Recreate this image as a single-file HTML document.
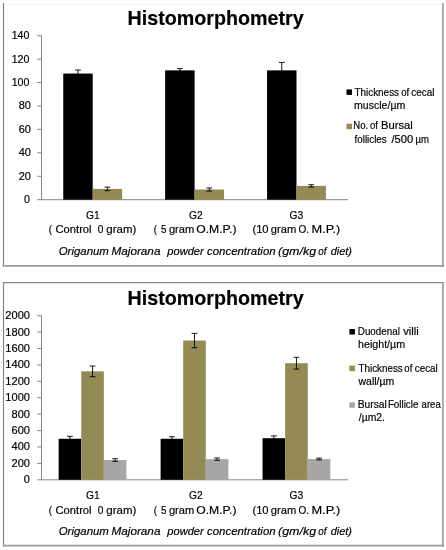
<!DOCTYPE html>
<html><head><meta charset="utf-8"><title>Histomorphometry</title>
<style>
html,body{margin:0;padding:0;background:#fff;}
svg{display:block;font-family:"Liberation Sans",sans-serif;}
text{stroke:#000;stroke-width:0.18px;}
</style></head><body>
<svg width="446" height="550" viewBox="0 0 446 550">
<rect width="446" height="550" fill="#fff"/>
<line x1="3.5" y1="3" x2="3.5" y2="266.7" stroke="#858585" stroke-width="1.2"/>
<line x1="442.9" y1="3" x2="442.9" y2="266.7" stroke="#ababab" stroke-width="2"/>
<line x1="2.9" y1="265.8" x2="443.9" y2="265.8" stroke="#9a9a9a" stroke-width="1.7"/>
<line x1="4" y1="4.5" x2="442" y2="4.5" stroke="#f4f4f4" stroke-width="1"/>
<text y="25.2" font-size="20.8" font-weight="bold"><tspan x="127.62" textLength="176.03" lengthAdjust="spacingAndGlyphs">Histomorphometry</tspan></text>
<line x1="41.50" y1="35.70" x2="41.50" y2="199.70" stroke="#868686" stroke-width="1"/>
<line x1="37.20" y1="199.70" x2="348.10" y2="199.70" stroke="#868686" stroke-width="1"/>
<text x="29.95" y="203.1" font-size="11.2" text-anchor="end" textLength="6.0" lengthAdjust="spacingAndGlyphs">0</text>
<line x1="37.20" y1="176.27" x2="41.50" y2="176.27" stroke="#868686" stroke-width="1"/>
<text x="30.85" y="179.67" font-size="11.2" text-anchor="end" textLength="12.2" lengthAdjust="spacingAndGlyphs">20</text>
<line x1="37.20" y1="152.84" x2="41.50" y2="152.84" stroke="#868686" stroke-width="1"/>
<text x="30.85" y="156.24" font-size="11.2" text-anchor="end" textLength="12.2" lengthAdjust="spacingAndGlyphs">40</text>
<line x1="37.20" y1="129.41" x2="41.50" y2="129.41" stroke="#868686" stroke-width="1"/>
<text x="30.85" y="132.81" font-size="11.2" text-anchor="end" textLength="12.2" lengthAdjust="spacingAndGlyphs">60</text>
<line x1="37.20" y1="105.99" x2="41.50" y2="105.99" stroke="#868686" stroke-width="1"/>
<text x="30.85" y="109.39" font-size="11.2" text-anchor="end" textLength="12.2" lengthAdjust="spacingAndGlyphs">80</text>
<line x1="37.20" y1="82.56" x2="41.50" y2="82.56" stroke="#868686" stroke-width="1"/>
<text x="29.4" y="85.96" font-size="11.2" text-anchor="end" textLength="17.7" lengthAdjust="spacingAndGlyphs">100</text>
<line x1="37.20" y1="59.13" x2="41.50" y2="59.13" stroke="#868686" stroke-width="1"/>
<text x="29.4" y="62.53" font-size="11.2" text-anchor="end" textLength="17.7" lengthAdjust="spacingAndGlyphs">120</text>
<line x1="37.20" y1="35.70" x2="41.50" y2="35.70" stroke="#868686" stroke-width="1"/>
<text x="29.4" y="39.1" font-size="11.2" text-anchor="end" textLength="17.7" lengthAdjust="spacingAndGlyphs">140</text>
<rect x="63.25" y="73.54" width="29.45" height="126.16" fill="#000000"/>
<line x1="77.97" y1="70.02" x2="77.97" y2="77.05" stroke="#000" stroke-width="0.9"/>
<line x1="75.07" y1="70.02" x2="80.88" y2="70.02" stroke="#000" stroke-width="0.9"/>
<line x1="75.07" y1="77.05" x2="80.88" y2="77.05" stroke="#000" stroke-width="0.9"/>
<rect x="92.70" y="188.92" width="29.45" height="10.78" fill="#948A54"/>
<line x1="107.42" y1="187.17" x2="107.42" y2="190.68" stroke="#000" stroke-width="0.9"/>
<line x1="104.52" y1="187.17" x2="110.33" y2="187.17" stroke="#000" stroke-width="0.9"/>
<line x1="104.52" y1="190.68" x2="110.33" y2="190.68" stroke="#000" stroke-width="0.9"/>
<rect x="165.15" y="70.37" width="29.45" height="129.33" fill="#000000"/>
<line x1="179.88" y1="68.62" x2="179.88" y2="72.13" stroke="#000" stroke-width="0.9"/>
<line x1="176.97" y1="68.62" x2="182.78" y2="68.62" stroke="#000" stroke-width="0.9"/>
<line x1="176.97" y1="72.13" x2="182.78" y2="72.13" stroke="#000" stroke-width="0.9"/>
<rect x="194.60" y="189.51" width="29.45" height="10.19" fill="#948A54"/>
<line x1="209.32" y1="187.99" x2="209.32" y2="191.03" stroke="#000" stroke-width="0.9"/>
<line x1="206.42" y1="187.99" x2="212.22" y2="187.99" stroke="#000" stroke-width="0.9"/>
<line x1="206.42" y1="191.03" x2="212.22" y2="191.03" stroke="#000" stroke-width="0.9"/>
<rect x="267.05" y="70.37" width="29.45" height="129.33" fill="#000000"/>
<line x1="281.78" y1="62.41" x2="281.78" y2="78.34" stroke="#000" stroke-width="0.9"/>
<line x1="278.88" y1="62.41" x2="284.68" y2="62.41" stroke="#000" stroke-width="0.9"/>
<line x1="278.88" y1="78.34" x2="284.68" y2="78.34" stroke="#000" stroke-width="0.9"/>
<rect x="296.50" y="185.88" width="29.45" height="13.82" fill="#948A54"/>
<line x1="311.23" y1="184.71" x2="311.23" y2="187.05" stroke="#000" stroke-width="0.9"/>
<line x1="308.33" y1="184.71" x2="314.12" y2="184.71" stroke="#000" stroke-width="0.9"/>
<line x1="308.33" y1="187.05" x2="314.12" y2="187.05" stroke="#000" stroke-width="0.9"/>
<text y="218.5" font-size="11.2"><tspan x="85.94" textLength="13.76" lengthAdjust="spacingAndGlyphs">G1</tspan></text>
<text y="233.4" font-size="11.2"><tspan x="48.68" textLength="3.29" lengthAdjust="spacingAndGlyphs">(</tspan> <tspan x="55.50" textLength="36.08" lengthAdjust="spacingAndGlyphs">Control</tspan> <tspan x="97.77" textLength="5.64" lengthAdjust="spacingAndGlyphs">0</tspan> <tspan x="106.34" textLength="29.94" lengthAdjust="spacingAndGlyphs">gram)</tspan></text>
<text y="218.5" font-size="11.2"><tspan x="188.94" textLength="13.66" lengthAdjust="spacingAndGlyphs">G2</tspan></text>
<text y="233.4" font-size="11.2"><tspan x="153.68" textLength="3.29" lengthAdjust="spacingAndGlyphs">(</tspan> <tspan x="161.05" textLength="5.49" lengthAdjust="spacingAndGlyphs">5</tspan> <tspan x="168.95" textLength="25.35" lengthAdjust="spacingAndGlyphs">gram</tspan> <tspan x="196.26" textLength="40.29" lengthAdjust="spacingAndGlyphs">O.M.P.)</tspan></text>
<text y="218.5" font-size="11.2"><tspan x="289.44" textLength="13.66" lengthAdjust="spacingAndGlyphs">G3</tspan></text>
<text y="233.4" font-size="11.2"><tspan x="252.40" textLength="16.22" lengthAdjust="spacingAndGlyphs">(10</tspan> <tspan x="270.85" textLength="25.45" lengthAdjust="spacingAndGlyphs">gram</tspan> <tspan x="298.55" textLength="10.57" lengthAdjust="spacingAndGlyphs">O.</tspan> <tspan x="311.51" textLength="28.82" lengthAdjust="spacingAndGlyphs">M.P.)</tspan></text>
<text y="255.0" font-size="11.2" font-style="italic"><tspan x="58.69" textLength="50.19" lengthAdjust="spacingAndGlyphs">Origanum</tspan> <tspan x="111.44" textLength="49.01" lengthAdjust="spacingAndGlyphs">Majorana</tspan> <tspan x="167.30" textLength="36.46" lengthAdjust="spacingAndGlyphs">powder</tspan> <tspan x="207.04" textLength="68.59" lengthAdjust="spacingAndGlyphs">concentration</tspan> <tspan x="278.04" textLength="38.10" lengthAdjust="spacingAndGlyphs">(gm/kg</tspan> <tspan x="318.37" textLength="8.22" lengthAdjust="spacingAndGlyphs">of</tspan> <tspan x="330.66" textLength="21.25" lengthAdjust="spacingAndGlyphs">diet)</tspan></text>
<rect x="346.50" y="89.40" width="5.50" height="5.50" fill="#000000"/>
<text y="95.7" font-size="10.4"><tspan x="354.40" textLength="44.67" lengthAdjust="spacingAndGlyphs">Thickness</tspan> <tspan x="401.16" textLength="7.98" lengthAdjust="spacingAndGlyphs">of</tspan> <tspan x="411.26" textLength="23.23" lengthAdjust="spacingAndGlyphs">cecal</tspan></text>
<text y="108.9" font-size="10.4"><tspan x="354.09" textLength="51.17" lengthAdjust="spacingAndGlyphs">muscle/µm</tspan></text>
<rect x="346.50" y="123.70" width="5.50" height="5.50" fill="#948A54"/>
<text y="129.3" font-size="10.4"><tspan x="353.32" textLength="14.88" lengthAdjust="spacingAndGlyphs">No.</tspan> <tspan x="370.01" textLength="7.98" lengthAdjust="spacingAndGlyphs">of</tspan> <tspan x="380.97" textLength="31.81" lengthAdjust="spacingAndGlyphs">Bursal</tspan></text>
<text y="142.5" font-size="10.4"><tspan x="354.60" textLength="32.11" lengthAdjust="spacingAndGlyphs">follicles</tspan> <tspan x="391.44" textLength="21.85" lengthAdjust="spacingAndGlyphs">/500</tspan> <tspan x="415.38" textLength="13.48" lengthAdjust="spacingAndGlyphs">µm</tspan></text>
<line x1="3.5" y1="282" x2="3.5" y2="546.6" stroke="#858585" stroke-width="1.2"/>
<line x1="442.9" y1="282" x2="442.9" y2="546.6" stroke="#ababab" stroke-width="2"/>
<line x1="2.9" y1="545.7" x2="443.9" y2="545.7" stroke="#9a9a9a" stroke-width="1.7"/>
<line x1="2.9" y1="282.6" x2="443.9" y2="282.6" stroke="#8a8a8a" stroke-width="1.4"/>
<text y="305.2" font-size="20.8" font-weight="bold"><tspan x="127.62" textLength="176.03" lengthAdjust="spacingAndGlyphs">Histomorphometry</tspan></text>
<line x1="41.50" y1="315.70" x2="41.50" y2="479.80" stroke="#868686" stroke-width="1"/>
<line x1="37.20" y1="479.80" x2="348.10" y2="479.80" stroke="#868686" stroke-width="1"/>
<text x="29.95" y="483.2" font-size="11.2" text-anchor="end" textLength="6.15" lengthAdjust="spacingAndGlyphs">0</text>
<line x1="37.20" y1="463.39" x2="41.50" y2="463.39" stroke="#868686" stroke-width="1"/>
<text x="29.95" y="466.79" font-size="11.2" text-anchor="end" textLength="18.45" lengthAdjust="spacingAndGlyphs">200</text>
<line x1="37.20" y1="446.98" x2="41.50" y2="446.98" stroke="#868686" stroke-width="1"/>
<text x="29.95" y="450.38" font-size="11.2" text-anchor="end" textLength="18.45" lengthAdjust="spacingAndGlyphs">400</text>
<line x1="37.20" y1="430.57" x2="41.50" y2="430.57" stroke="#868686" stroke-width="1"/>
<text x="29.95" y="433.97" font-size="11.2" text-anchor="end" textLength="18.45" lengthAdjust="spacingAndGlyphs">600</text>
<line x1="37.20" y1="414.16" x2="41.50" y2="414.16" stroke="#868686" stroke-width="1"/>
<text x="29.95" y="417.56" font-size="11.2" text-anchor="end" textLength="18.45" lengthAdjust="spacingAndGlyphs">800</text>
<line x1="37.20" y1="397.75" x2="41.50" y2="397.75" stroke="#868686" stroke-width="1"/>
<text x="29.95" y="401.15" font-size="11.2" text-anchor="end" textLength="24.6" lengthAdjust="spacingAndGlyphs">1000</text>
<line x1="37.20" y1="381.34" x2="41.50" y2="381.34" stroke="#868686" stroke-width="1"/>
<text x="29.95" y="384.74" font-size="11.2" text-anchor="end" textLength="24.6" lengthAdjust="spacingAndGlyphs">1200</text>
<line x1="37.20" y1="364.93" x2="41.50" y2="364.93" stroke="#868686" stroke-width="1"/>
<text x="29.95" y="368.33" font-size="11.2" text-anchor="end" textLength="24.6" lengthAdjust="spacingAndGlyphs">1400</text>
<line x1="37.20" y1="348.52" x2="41.50" y2="348.52" stroke="#868686" stroke-width="1"/>
<text x="29.95" y="351.92" font-size="11.2" text-anchor="end" textLength="24.6" lengthAdjust="spacingAndGlyphs">1600</text>
<line x1="37.20" y1="332.11" x2="41.50" y2="332.11" stroke="#868686" stroke-width="1"/>
<text x="29.95" y="335.51" font-size="11.2" text-anchor="end" textLength="24.6" lengthAdjust="spacingAndGlyphs">1800</text>
<line x1="37.20" y1="315.70" x2="41.50" y2="315.70" stroke="#868686" stroke-width="1"/>
<text x="29.95" y="319.1" font-size="11.2" text-anchor="end" textLength="24.6" lengthAdjust="spacingAndGlyphs">2000</text>
<rect x="58.65" y="438.77" width="22.60" height="41.03" fill="#000000"/>
<line x1="69.95" y1="436.31" x2="69.95" y2="441.24" stroke="#000" stroke-width="0.9"/>
<line x1="67.05" y1="436.31" x2="72.85" y2="436.31" stroke="#000" stroke-width="0.9"/>
<line x1="67.05" y1="441.24" x2="72.85" y2="441.24" stroke="#000" stroke-width="0.9"/>
<rect x="81.25" y="371.33" width="22.60" height="108.47" fill="#948A54"/>
<line x1="92.55" y1="366.00" x2="92.55" y2="376.66" stroke="#000" stroke-width="0.9"/>
<line x1="89.65" y1="366.00" x2="95.45" y2="366.00" stroke="#000" stroke-width="0.9"/>
<line x1="89.65" y1="376.66" x2="95.45" y2="376.66" stroke="#000" stroke-width="0.9"/>
<rect x="103.85" y="460.03" width="22.60" height="19.77" fill="#A6A6A6"/>
<line x1="115.15" y1="458.71" x2="115.15" y2="461.34" stroke="#000" stroke-width="0.9"/>
<line x1="112.25" y1="458.71" x2="118.05" y2="458.71" stroke="#000" stroke-width="0.9"/>
<line x1="112.25" y1="461.34" x2="118.05" y2="461.34" stroke="#000" stroke-width="0.9"/>
<rect x="160.60" y="438.77" width="22.60" height="41.03" fill="#000000"/>
<line x1="171.90" y1="436.72" x2="171.90" y2="440.83" stroke="#000" stroke-width="0.9"/>
<line x1="169.00" y1="436.72" x2="174.80" y2="436.72" stroke="#000" stroke-width="0.9"/>
<line x1="169.00" y1="440.83" x2="174.80" y2="440.83" stroke="#000" stroke-width="0.9"/>
<rect x="183.20" y="340.56" width="22.60" height="139.24" fill="#948A54"/>
<line x1="194.50" y1="333.34" x2="194.50" y2="347.78" stroke="#000" stroke-width="0.9"/>
<line x1="191.60" y1="333.34" x2="197.40" y2="333.34" stroke="#000" stroke-width="0.9"/>
<line x1="191.60" y1="347.78" x2="197.40" y2="347.78" stroke="#000" stroke-width="0.9"/>
<rect x="205.80" y="459.12" width="22.60" height="20.68" fill="#A6A6A6"/>
<line x1="217.10" y1="457.97" x2="217.10" y2="460.27" stroke="#000" stroke-width="0.9"/>
<line x1="214.20" y1="457.97" x2="220.00" y2="457.97" stroke="#000" stroke-width="0.9"/>
<line x1="214.20" y1="460.27" x2="220.00" y2="460.27" stroke="#000" stroke-width="0.9"/>
<rect x="262.55" y="438.20" width="22.60" height="41.60" fill="#000000"/>
<line x1="273.85" y1="435.90" x2="273.85" y2="440.50" stroke="#000" stroke-width="0.9"/>
<line x1="270.95" y1="435.90" x2="276.75" y2="435.90" stroke="#000" stroke-width="0.9"/>
<line x1="270.95" y1="440.50" x2="276.75" y2="440.50" stroke="#000" stroke-width="0.9"/>
<rect x="285.15" y="363.21" width="22.60" height="116.59" fill="#948A54"/>
<line x1="296.45" y1="357.30" x2="296.45" y2="369.11" stroke="#000" stroke-width="0.9"/>
<line x1="293.55" y1="357.30" x2="299.35" y2="357.30" stroke="#000" stroke-width="0.9"/>
<line x1="293.55" y1="369.11" x2="299.35" y2="369.11" stroke="#000" stroke-width="0.9"/>
<rect x="307.75" y="459.04" width="22.60" height="20.76" fill="#A6A6A6"/>
<line x1="319.05" y1="458.14" x2="319.05" y2="459.94" stroke="#000" stroke-width="0.9"/>
<line x1="316.15" y1="458.14" x2="321.95" y2="458.14" stroke="#000" stroke-width="0.9"/>
<line x1="316.15" y1="459.94" x2="321.95" y2="459.94" stroke="#000" stroke-width="0.9"/>
<text y="498.6" font-size="11.2"><tspan x="85.94" textLength="13.76" lengthAdjust="spacingAndGlyphs">G1</tspan></text>
<text y="513.5" font-size="11.2"><tspan x="48.68" textLength="3.29" lengthAdjust="spacingAndGlyphs">(</tspan> <tspan x="55.50" textLength="36.08" lengthAdjust="spacingAndGlyphs">Control</tspan> <tspan x="97.77" textLength="5.64" lengthAdjust="spacingAndGlyphs">0</tspan> <tspan x="106.34" textLength="29.94" lengthAdjust="spacingAndGlyphs">gram)</tspan></text>
<text y="498.6" font-size="11.2"><tspan x="188.94" textLength="13.66" lengthAdjust="spacingAndGlyphs">G2</tspan></text>
<text y="513.5" font-size="11.2"><tspan x="153.68" textLength="3.29" lengthAdjust="spacingAndGlyphs">(</tspan> <tspan x="161.05" textLength="5.49" lengthAdjust="spacingAndGlyphs">5</tspan> <tspan x="168.95" textLength="25.35" lengthAdjust="spacingAndGlyphs">gram</tspan> <tspan x="196.26" textLength="40.29" lengthAdjust="spacingAndGlyphs">O.M.P.)</tspan></text>
<text y="498.6" font-size="11.2"><tspan x="289.44" textLength="13.66" lengthAdjust="spacingAndGlyphs">G3</tspan></text>
<text y="513.5" font-size="11.2"><tspan x="252.40" textLength="16.22" lengthAdjust="spacingAndGlyphs">(10</tspan> <tspan x="270.85" textLength="25.45" lengthAdjust="spacingAndGlyphs">gram</tspan> <tspan x="298.55" textLength="10.57" lengthAdjust="spacingAndGlyphs">O.</tspan> <tspan x="311.51" textLength="28.82" lengthAdjust="spacingAndGlyphs">M.P.)</tspan></text>
<text y="535.1" font-size="11.2" font-style="italic"><tspan x="58.69" textLength="50.19" lengthAdjust="spacingAndGlyphs">Origanum</tspan> <tspan x="111.44" textLength="49.01" lengthAdjust="spacingAndGlyphs">Majorana</tspan> <tspan x="167.30" textLength="36.46" lengthAdjust="spacingAndGlyphs">powder</tspan> <tspan x="207.04" textLength="68.59" lengthAdjust="spacingAndGlyphs">concentration</tspan> <tspan x="278.04" textLength="38.10" lengthAdjust="spacingAndGlyphs">(gm/kg</tspan> <tspan x="318.37" textLength="8.22" lengthAdjust="spacingAndGlyphs">of</tspan> <tspan x="330.66" textLength="21.25" lengthAdjust="spacingAndGlyphs">diet)</tspan></text>
<rect x="349.40" y="329.00" width="5.50" height="5.50" fill="#000000"/>
<text y="334.9" font-size="10.4"><tspan x="357.79" textLength="42.08" lengthAdjust="spacingAndGlyphs">Duodenal</tspan> <tspan x="403.18" textLength="15.59" lengthAdjust="spacingAndGlyphs">villi</tspan></text>
<text y="348.1" font-size="10.4"><tspan x="358.09" textLength="47.02" lengthAdjust="spacingAndGlyphs">height/µm</tspan></text>
<rect x="349.40" y="365.60" width="5.50" height="5.50" fill="#948A54"/>
<text y="371.5" font-size="10.4"><tspan x="358.50" textLength="44.27" lengthAdjust="spacingAndGlyphs">Thickness</tspan> <tspan x="404.36" textLength="7.98" lengthAdjust="spacingAndGlyphs">of</tspan> <tspan x="414.76" textLength="23.03" lengthAdjust="spacingAndGlyphs">cecal</tspan></text>
<text y="384.7" font-size="10.4"><tspan x="358.50" textLength="35.79" lengthAdjust="spacingAndGlyphs">wall/µm</tspan></text>
<rect x="349.40" y="402.30" width="5.50" height="5.50" fill="#A6A6A6"/>
<text y="408.2" font-size="10.4"><tspan x="357.76" textLength="29.03" lengthAdjust="spacingAndGlyphs">Bursal</tspan> <tspan x="387.89" textLength="30.53" lengthAdjust="spacingAndGlyphs">Follicle</tspan> <tspan x="421.62" textLength="19.13" lengthAdjust="spacingAndGlyphs">area</tspan></text>
<text y="421.4" font-size="10.4"><tspan x="358.85" textLength="26.05" lengthAdjust="spacingAndGlyphs">/µm2.</tspan></text>
</svg>
</body></html>
